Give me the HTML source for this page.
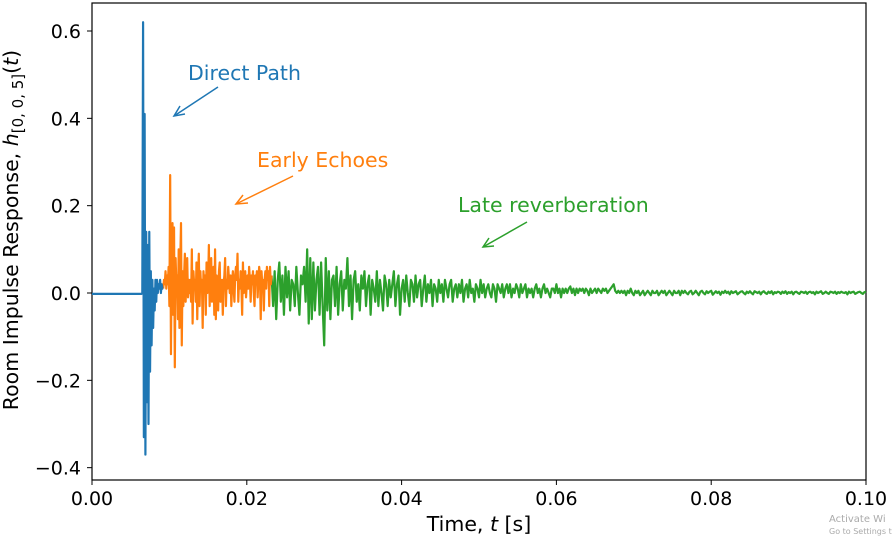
<!DOCTYPE html>
<html><head><meta charset="utf-8"><style>
body{margin:0;background:#fff;}
svg{display:block;font-family:"DejaVu Sans","Liberation Sans",sans-serif;}
</style></head><body>
<svg id="chart" width="893" height="537" viewBox="0 0 893 537" xmlns="http://www.w3.org/2000/svg">
<rect x="92" y="3" width="774" height="477" fill="#fff" stroke="#000" stroke-width="1.2"/>
<g id="ticks"></g>
<g id="series"></g>
<g font-size="20.5">
<text x="188" y="80" fill="#1f77b4">Direct Path</text>
<line x1="218" y1="87" x2="174" y2="116" stroke="#1f77b4" stroke-width="1.5"/>
<polyline points="180,106 174,116 185,114" fill="none" stroke="#1f77b4" stroke-width="1.5"/>
<text x="257" y="167" fill="#ff7f0e">Early Echoes</text>
<line x1="293" y1="176" x2="236" y2="204" stroke="#ff7f0e" stroke-width="1.5"/>
<polyline points="243,195 236,204 248,203" fill="none" stroke="#ff7f0e" stroke-width="1.5"/>
<text x="458" y="212" fill="#2ca02c">Late reverberation</text>
<line x1="527" y1="222" x2="483" y2="247" stroke="#2ca02c" stroke-width="1.5"/>
<polyline points="489,238 483,247 494,246" fill="none" stroke="#2ca02c" stroke-width="1.5"/>
</g>
<text x="479" y="531" font-size="20.5" text-anchor="middle">Time, <tspan font-style="italic">t</tspan> [s]</text>
<text transform="translate(18,230) rotate(-90)" font-size="20.5" text-anchor="middle">Room Impulse Response, <tspan font-style="italic">h</tspan><tspan font-size="15" dy="5">[0, 0, 5]</tspan><tspan dy="-5">(</tspan><tspan font-style="italic">t</tspan>)</text>
<text x="829" y="522" font-size="10" fill="#aaa">Activate Wi</text>
<text x="829" y="534" font-size="8" fill="#aaa">Go to Settings t</text>
</svg>
<script>
const xTicks=[0,0.02,0.04,0.06,0.08,0.10];
const xTickLabels=["0.00","0.02","0.04","0.06","0.08","0.10"];
const yTicks=[-0.4,-0.2,0,0.2,0.4,0.6];
const yTickLabels=["\u22120.4","\u22120.2","0.0","0.2","0.4","0.6"];
const blueTimes=[0,0.0064,0.0065,0.0066,0.0067,0.0068,0.0069,0.0070,0.0071,0.0072,0.0073,0.0074,0.0075,0.0076,0.0077,0.0078,0.0079,0.0080,0.0081,0.0082,0.0083,0.0084,0.0085,0.0086,0.0087,0.0088,0.0089,0.0090,0.0091,0.0092];
const blueValues=[-0.002,-0.002,0.0,0.62,-0.33,0.41,-0.37,0.14,-0.25,0.11,-0.30,0.14,-0.18,0.05,-0.12,0.03,-0.08,0.01,-0.04,0.03,-0.02,0.03,0.0,0.02,0.01,0.03,0.0,0.02,0.01,0.01];
const orangeStart=0.0092, orangeStep=0.0001;
const orangeValues=[0.01,0.03,0.02,0.05,0.01,0.04,0.02,0.06,-0.03,0.27,
-0.14,0.10,0.16,-0.05,0.15,-0.17,0.08,0.02,0.04,-0.06,
0.10,-0.08,0.07,0.16,-0.12,0.05,-0.03,0.04,0.09,-0.02,
0.05,0.08,-0.01,0.03,0.00,0.03,-0.02,0.10,-0.07,0.05,
0.02,0.03,-0.02,0.07,-0.06,0.04,0.09,-0.03,0.05,0.01,
0.03,-0.08,0.05,0.02,0.04,-0.05,0.07,0.00,0.02,0.11,
-0.03,0.05,0.08,-0.02,0.03,0.06,-0.05,0.10,-0.06,0.04,
0.02,-0.04,0.05,0.07,-0.02,0.00,0.03,-0.05,0.02,0.04,
0.08,-0.03,0.03,0.01,0.06,0.03,0.00,0.04,-0.03,0.02,
0.05,0.01,-0.02,0.04,0.06,0.03,0.09,-0.02,0.03,0.01,
0.05,0.02,-0.05,0.07,0.00,0.03,0.05,-0.01,0.02,0.04,
0.01,0.06,0.03,-0.02,0.04,0.02,0.05,0.00,-0.03,0.04,
0.02,0.05,-0.01,0.03,0.06,0.04,-0.06,0.05,0.02,0.03,
-0.04,0.03,0.05,0.01,0.06,0.03,0.05,-0.03,0.06,0.02,0.04];
const greenStart=0.0232, greenStep=0.0002;
const greenValues=[0.04,-0.03,0.05,-0.06,0.03,0.07,-0.02,0.04,-0.05,0.06,
-0.01,0.05,-0.04,0.03,0.02,-0.03,0.06,0.00,-0.05,0.04,
0.02,0.06,-0.02,0.10,-0.07,0.08,-0.06,0.07,-0.04,0.03,
0.06,-0.05,0.07,-0.03,-0.12,0.08,-0.04,0.05,-0.06,0.03,
0.04,-0.03,0.06,-0.05,0.02,0.05,-0.04,0.03,0.01,0.08,
-0.03,0.04,-0.06,0.03,0.05,-0.02,0.02,-0.04,0.04,0.01,
0.05,-0.03,0.02,0.04,-0.05,0.03,0.01,-0.02,0.05,-0.03,
0.03,0.00,-0.04,0.04,0.02,-0.03,0.03,-0.01,0.02,0.05,
-0.03,0.02,0.04,-0.05,0.01,0.03,-0.02,0.04,0.00,-0.03,
0.03,0.02,-0.02,0.04,-0.01,0.02,0.03,-0.03,0.01,0.04,
-0.02,0.02,0.00,0.03,-0.03,0.02,0.01,-0.02,0.03,0.00,
0.02,-0.02,0.03,0.01,-0.01,0.02,0.03,-0.02,0.01,0.02,
-0.01,0.02,0.00,0.03,-0.02,0.01,0.02,-0.01,0.03,0.00,
0.01,-0.02,0.02,0.01,-0.01,0.03,0.00,0.02,-0.01,0.01,
0.02,0.00,-0.01,0.02,0.01,-0.02,0.02,0.01,0.00,0.02,
-0.01,0.01,0.02,0.00,0.02,-0.01,0.01,0.00,0.02,0.01,
-0.01,0.02,0.00,0.01,0.02,-0.01,0.01,0.00,0.01,-0.01,
0.01,0.02,0.00,0.01,-0.01,0.01,0.02,0.00,0.01,0.00,
-0.01,0.01,0.01,0.00,0.02,0.00,0.01,-0.01,0.01,0.00,
0.01,0.00,0.01,0.015,0.00,0.01,-0.005,0.01,0.00,0.01,
0.005,0.01,0.00,0.01,0.005,-0.005,0.01,0.00,0.005,0.01,
0.00,0.01,0.005,0.00,0.01,0.005,0.01,0.00,0.005,0.01,
0.015,0.02,0.005,0.00,0.005,0.00,0.005,0.00,0.005,-0.005,
0.005,0.00,0.01,0.00,-0.005,0.005,0.00,0.005,-0.005,0.00,
0.005,-0.005,0.00,0.005,0.00,-0.005,0.005,0.00,0.00,0.005,
-0.005,0.00,0.005,0.00,0.005,-0.005,0.00,0.005,0.00,-0.005,
0.005,0.00,0.00,0.005,-0.005,0.005,0.00,0.005,0.00,-0.003,
0.003,0.005,-0.003,0.00,0.005,0.00,-0.005,0.003,0.005,0.00,
-0.003,0.004,0.00,0.003,0.005,-0.004,0.00,0.004,0.00,0.003,
-0.004,0.003,0.00,0.005,0.00,0.003,-0.003,0.004,0.00,0.002,
0.004,-0.003,0.00,0.003,0.004,0.00,-0.003,0.003,0.00,0.004,
0.00,-0.003,0.004,0.002,0.00,0.003,-0.003,0.002,0.004,0.00,
-0.002,0.003,0.00,0.004,-0.003,0.002,0.00,0.003,0.002,-0.002,
0.003,0.00,0.004,-0.002,0.002,0.00,0.003,-0.003,0.002,0.003,
0.00,-0.002,0.003,0.002,0.00,0.003,-0.002,0.002,0.003,0.00,
0.002,-0.003,0.003,0.00,0.002,0.004,-0.002,0.00,0.003,0.00,
-0.002,0.003,0.002,0.00,0.003,-0.002,0.002,0.00,0.003,0.001,
0.00,0.002,-0.003,0.003,0.00,0.002,0.003,-0.002,0.00,0.002,
0.003,0.00,-0.002,0.002,0.003];

const NS="http://www.w3.org/2000/svg";
const X0=92,X1=866,Y0=293,YS=87.33/0.2;
function xs(t){return X0+(t/0.1)*(X1-X0);}
function ys(v){return Y0-v*YS;}
const ticks=document.getElementById('ticks');
xTicks.forEach((t,i)=>{
  const l=document.createElementNS(NS,'line');
  
  
  l.setAttribute('x1',xs(t));l.setAttribute('x2',xs(t));l.setAttribute('y1',480);l.setAttribute('y2',485);l.setAttribute('stroke','#000');
  ticks.appendChild(l);
  const tx=document.createElementNS(NS,'text');
  
  
  tx.setAttribute('x',xs(t));tx.setAttribute('y',505);tx.setAttribute('font-size','19');tx.setAttribute('text-anchor','middle');
  tx.textContent=xTickLabels[i];ticks.appendChild(tx);
});
yTicks.forEach((v,i)=>{
  const l=document.createElementNS(NS,'line');
  
  
  l.setAttribute('x1',87);l.setAttribute('x2',92);l.setAttribute('y1',ys(v));l.setAttribute('y2',ys(v));l.setAttribute('stroke','#000');
  ticks.appendChild(l);
  const tx=document.createElementNS(NS,'text');
  
  
  tx.setAttribute('x',81);tx.setAttribute('y',ys(v)+7);tx.setAttribute('font-size','19');tx.setAttribute('text-anchor','end');
  tx.textContent=yTickLabels[i];ticks.appendChild(tx);
});
const series=document.getElementById('series');
function draw(times,vals,color,name){
  const p=document.createElementNS(NS,'polyline');
  
  
  const pts=[];
  for(let i=0;i<vals.length;i++){const t=times(i);if(t>0.1)break;pts.push(xs(t).toFixed(2)+','+ys(vals[i]).toFixed(2));}
  p.setAttribute('points',pts.join(' '));
  p.setAttribute('fill','none');p.setAttribute('stroke',color);p.setAttribute('stroke-width','2.2');p.setAttribute('stroke-linejoin','round');
  series.appendChild(p);
}
draw(i=>greenStart+i*greenStep,greenValues,'#2ca02c','late-reverberation-line');
draw(i=>orangeStart+i*orangeStep,orangeValues,'#ff7f0e','early-echoes-line');
draw(i=>blueTimes[i],blueValues,'#1f77b4','direct-path-line');
</script>
</body></html>
